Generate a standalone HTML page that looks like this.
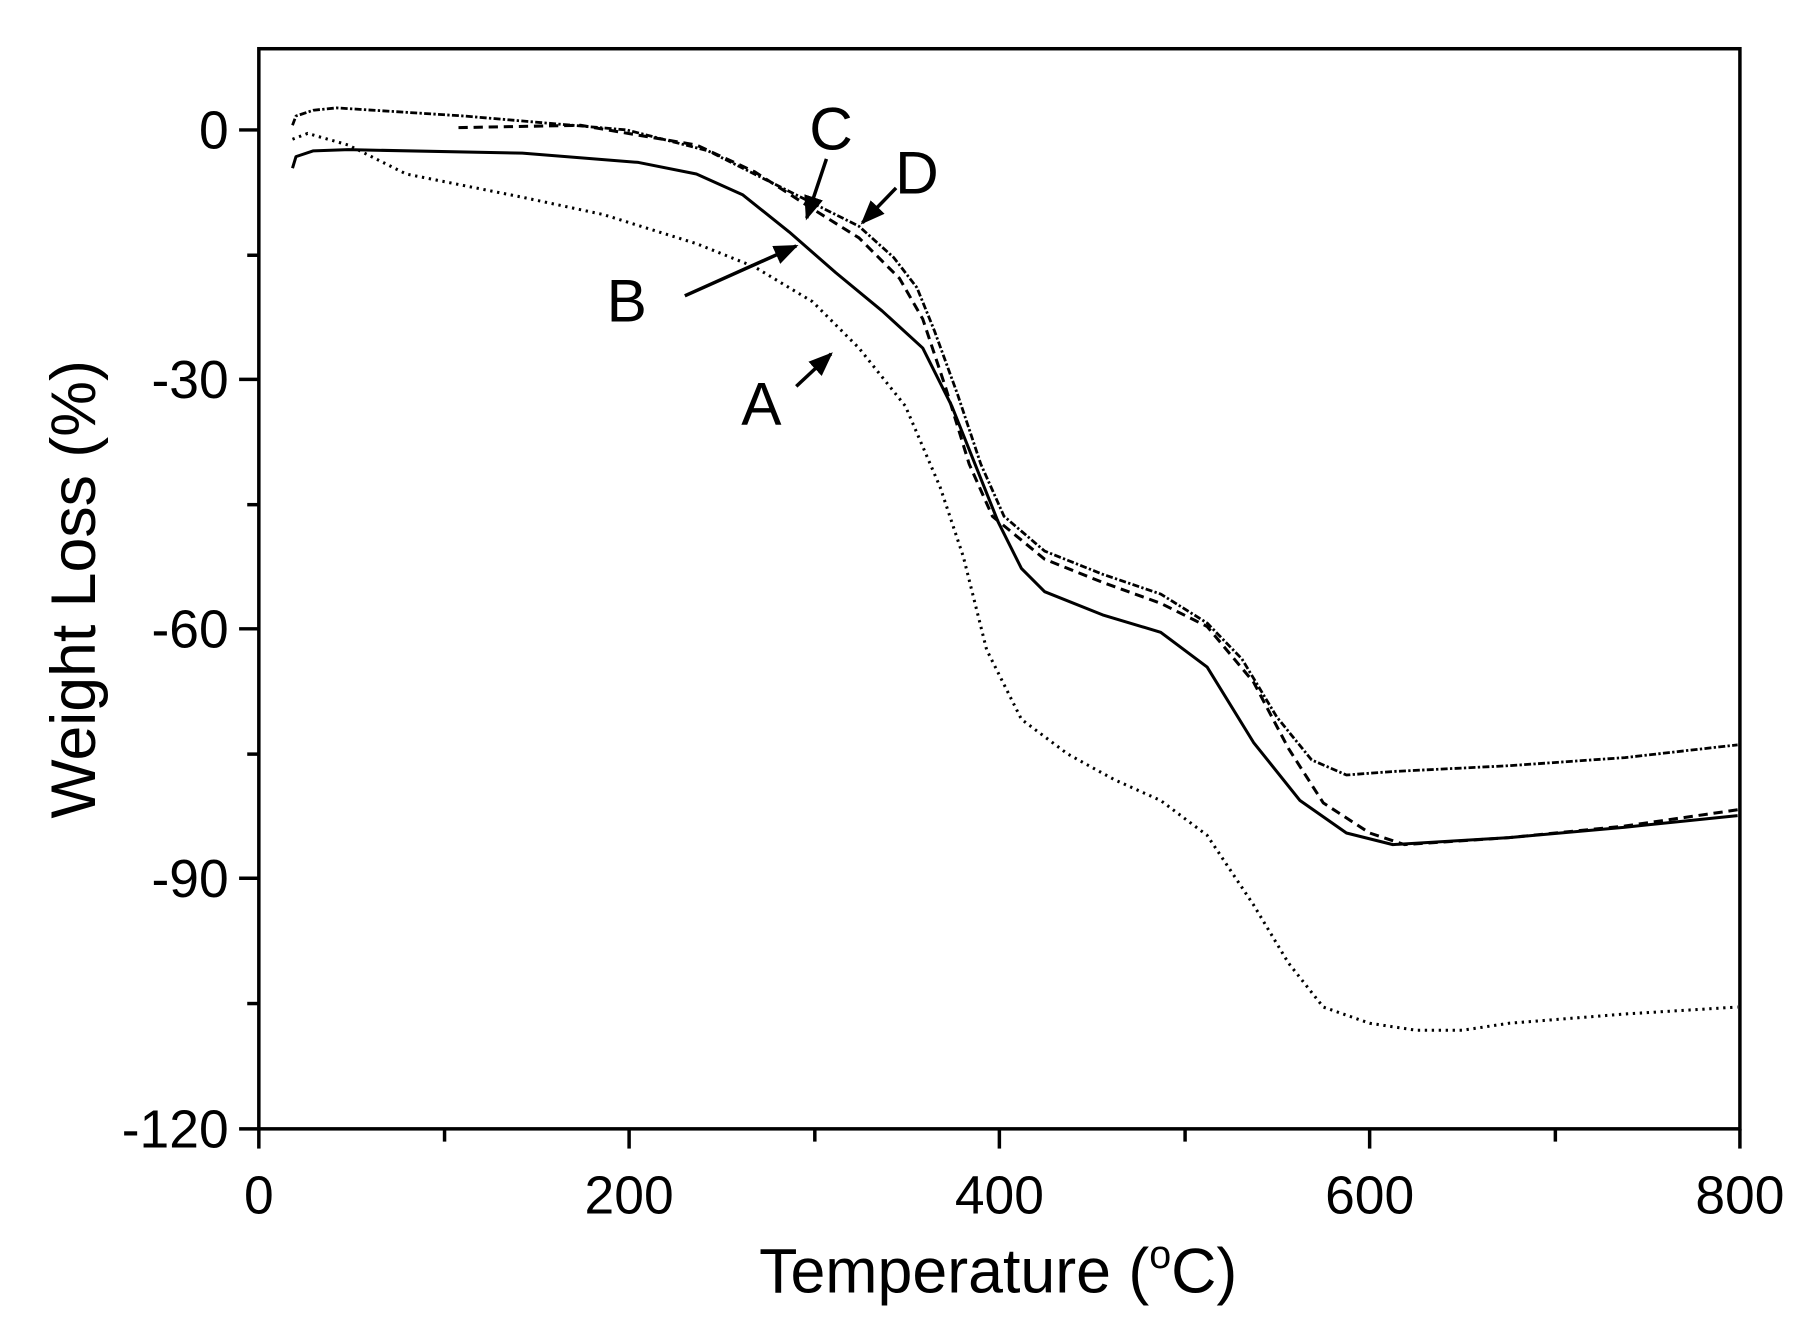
<!DOCTYPE html>
<html><head><meta charset="utf-8"><style>
html,body{margin:0;padding:0;background:#fff;}
svg{display:block;}
text{font-family:"Liberation Sans",Arial,sans-serif;fill:#000;}
</style></head><body>
<svg width="1820" height="1340" viewBox="0 0 1568 1155" preserveAspectRatio="none" xmlns="http://www.w3.org/2000/svg">
<defs><marker id="ah" viewBox="0 0 10 10" refX="9" refY="5" markerWidth="7" markerHeight="7" orient="auto"><path d="M0,1 L10,5 L0,9 Z" fill="#000"/></marker></defs>
<rect x="223" y="42" width="1276" height="931" fill="none" stroke="#000" stroke-width="3"/>
<g stroke="#000" stroke-width="3">
<line x1="223" y1="973" x2="223" y2="990"/><line x1="383" y1="973" x2="383" y2="984"/>
<line x1="542" y1="973" x2="542" y2="990"/><line x1="702" y1="973" x2="702" y2="984"/>
<line x1="861" y1="973" x2="861" y2="990"/><line x1="1021" y1="973" x2="1021" y2="984"/>
<line x1="1180" y1="973" x2="1180" y2="990"/><line x1="1340" y1="973" x2="1340" y2="984"/>
<line x1="1499" y1="973" x2="1499" y2="990"/>
<line x1="206" y1="112" x2="223" y2="112"/><line x1="213" y1="220" x2="223" y2="220"/>
<line x1="206" y1="327" x2="223" y2="327"/><line x1="213" y1="435" x2="223" y2="435"/>
<line x1="206" y1="542" x2="223" y2="542"/><line x1="213" y1="650" x2="223" y2="650"/>
<line x1="206" y1="757" x2="223" y2="757"/><line x1="213" y1="865" x2="223" y2="865"/>
<line x1="206" y1="973" x2="223" y2="973"/>
</g>
<g font-size="46" text-anchor="end">
<text x="197" y="128">0</text><text x="197" y="343">-30</text><text x="197" y="558">-60</text>
<text x="197" y="773">-90</text><text x="197" y="989">-120</text>
</g>
<g font-size="46" text-anchor="middle">
<text x="223" y="1046">0</text><text x="542" y="1046">200</text><text x="861" y="1046">400</text>
<text x="1180" y="1046">600</text><text x="1499" y="1046">800</text>
</g>
<text x="860" y="1114" font-size="54" text-anchor="middle">Temperature (<tspan font-size="34" dy="-21">o</tspan><tspan dy="21">C)</tspan></text>
<text transform="translate(82,508) rotate(-90)" font-size="54" text-anchor="middle">Weight Loss (%)</text>
<g fill="none" stroke="#000" stroke-linejoin="round">
<path stroke-width="2.4" stroke-dasharray="6,2,2,2" d="M252,108 L255,100 L270,95 L290,93 L400,100 L540,112 L610,130 L660,155 L700,175 L740,195 L770,222 L790,248 L805,285 L825,340 L845,400 L865,445 L900,475 L950,495 L1000,512 L1040,537 L1070,568 L1100,618 L1130,655 L1160,668 L1200,665 L1300,660 L1400,653 L1497,642"/>
<path stroke-width="2.6" stroke-dasharray="8,5" d="M395,110 L500,108 L600,125 L650,148 L700,180 L740,205 L775,240 L795,275 L815,335 L835,400 L855,445 L900,482 L950,502 L1000,520 L1040,540 L1080,588 L1110,645 L1140,692 L1180,718 L1210,728 L1300,722 L1400,712 L1497,698"/>
<path stroke-width="2.6" d="M252,145 L255,135 L270,130 L300,129 L450,132 L550,140 L600,150 L640,168 L680,200 L720,235 L760,268 L795,300 L820,350 L840,400 L860,450 L880,490 L900,510 L950,530 L1000,545 L1040,575 L1080,640 L1120,690 L1160,718 L1200,728 L1300,722 L1400,713 L1497,703"/>
<path stroke-width="2.6" stroke-dasharray="2,4" d="M252,120 L265,115 L300,125 L350,150 L450,170 L520,185 L600,210 L650,230 L700,260 L740,300 L780,350 L810,420 L830,480 L850,560 L880,620 L920,650 L960,672 L1000,690 L1040,720 L1080,780 L1110,830 L1140,868 L1180,882 L1220,888 L1260,888 L1300,882 L1400,874 L1497,868"/>
</g>
<g font-size="52" text-anchor="middle">
<text x="716" y="129">C</text><text x="790" y="167">D</text><text x="540" y="277">B</text><text x="656" y="366">A</text>
</g>
<g stroke="#000" stroke-width="3" marker-end="url(#ah)">
<line x1="712" y1="137" x2="695" y2="188"/>
<line x1="772" y1="162" x2="743" y2="192"/>
<line x1="590" y1="255" x2="686" y2="212"/>
<line x1="686" y1="333" x2="716" y2="305"/>
</g>
</svg>
</body></html>
